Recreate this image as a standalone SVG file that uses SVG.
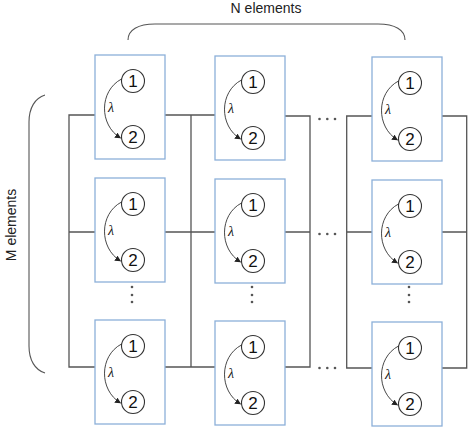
<svg xmlns="http://www.w3.org/2000/svg" width="474" height="431" viewBox="0 0 474 431">
<defs>
<style>
.box{fill:#fff;stroke:#8cb0d9;stroke-width:1.3}
.st{fill:#fff;stroke:#333;stroke-width:1.1}
.num{font-family:"Liberation Sans",Arial,sans-serif;font-size:17px;fill:#111;text-anchor:middle}
.lam{font-family:"Liberation Serif","DejaVu Serif",serif;font-style:italic;font-size:14px;fill:#111;text-anchor:middle}
.arc{fill:none;stroke:#333;stroke-width:0.9}
.wire{fill:none;stroke:#555;stroke-width:1.3}
.brace{fill:none;stroke:#555;stroke-width:1.1}
.lbl{font-family:"Liberation Sans",Arial,sans-serif;font-size:14px;fill:#222;text-anchor:middle}
.dot{fill:#555}
</style>
<marker id="ah" viewBox="0 0 10 10" refX="9" refY="5" markerWidth="6" markerHeight="6" orient="auto" markerUnits="userSpaceOnUse">
<path d="M0,0 L10,5 L0,10 z" fill="#222"/>
</marker>
<g id="cell">
<rect class="box" x="0" y="0" width="70" height="104"/>
<circle class="st" cx="38" cy="26" r="11.5"/>
<circle class="st" cx="38" cy="82" r="11.5"/>
<text class="num" x="38" y="32">1</text>
<text class="num" x="38" y="88">2</text>
<path class="arc" d="M26.5,24 C4,36 4,70 25.5,83" marker-end="url(#ah)"/>
<text class="lam" x="16" y="57">λ</text>
</g>
</defs>

<g id="connectors">
<path class="wire" d="M95,115 H69 V367 H95 M69,232 H95"/>
<path class="wire" d="M165,115 H215 M165,232 H215 M165,367 H215 M191,115 V367"/>
<path class="wire" d="M285,116 H310 V367 H285 M285,232 H310"/>
<path class="wire" d="M372,116 H346.7 V368 H372 M346.7,232 H372"/>
<path class="wire" d="M442,116 H466.7 V368 H442 M442,232 H466.7"/>
</g>

<g id="dots">
<circle class="dot" cx="319.5" cy="119" r="1.3"/><circle class="dot" cx="327.3" cy="119" r="1.3"/><circle class="dot" cx="335" cy="119" r="1.3"/>
<circle class="dot" cx="319.5" cy="234" r="1.3"/><circle class="dot" cx="327.3" cy="234" r="1.3"/><circle class="dot" cx="335" cy="234" r="1.3"/>
<circle class="dot" cx="319.5" cy="368" r="1.3"/><circle class="dot" cx="327.3" cy="368" r="1.3"/><circle class="dot" cx="335" cy="368" r="1.3"/>
<circle class="dot" cx="132" cy="287" r="1.3"/><circle class="dot" cx="132" cy="295" r="1.3"/><circle class="dot" cx="132" cy="302" r="1.3"/>
<circle class="dot" cx="252" cy="287" r="1.3"/><circle class="dot" cx="252" cy="295" r="1.3"/><circle class="dot" cx="252" cy="302" r="1.3"/>
<circle class="dot" cx="409" cy="287" r="1.3"/><circle class="dot" cx="409" cy="295" r="1.3"/><circle class="dot" cx="409" cy="302" r="1.3"/>
</g>

<g id="n-brace">
<path class="brace" d="M128,40 C128,30 138,24 155,24 L378,24 C395,24 405,30 405,40"/>
<text class="lbl" x="266" y="13">N elements</text>
</g>
<g id="m-brace">
<path class="brace" d="M45,95 C35,98 29,108 29,122 L29,346 C29,360 35,370 45,373"/>
<text class="lbl" transform="translate(16,225) rotate(-90)">M elements</text>
</g>

<g id="node-r1-c1"><use href="#cell" x="95" y="55"/></g>
<g id="node-r1-c2"><use href="#cell" x="215" y="56"/></g>
<g id="node-r1-cN"><use href="#cell" x="372" y="57"/></g>
<g id="node-r2-c1"><use href="#cell" x="95" y="178"/></g>
<g id="node-r2-c2"><use href="#cell" x="215" y="179"/></g>
<g id="node-r2-cN"><use href="#cell" x="372" y="180"/></g>
<g id="node-rM-c1"><use href="#cell" x="95" y="320"/></g>
<g id="node-rM-c2"><use href="#cell" x="215" y="321"/></g>
<g id="node-rM-cN"><use href="#cell" x="372" y="322"/></g>
</svg>
